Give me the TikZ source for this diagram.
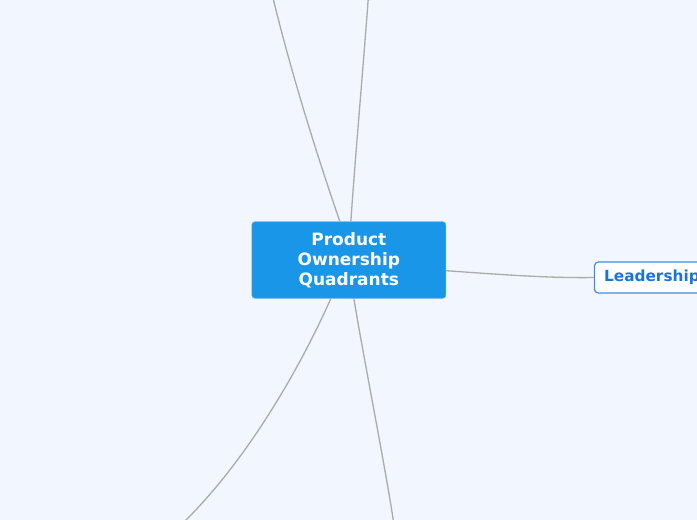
\documentclass[tikz,border=0pt]{standalone}
\usepackage{fontspec}
\setmainfont{DejaVu Sans}
\definecolor{bgc}{HTML}{F2F6FE}
\definecolor{centerblue}{HTML}{1A96E8}
\definecolor{leadblue}{HTML}{1A74DA}
\definecolor{leadborder}{HTML}{3B8EEA}
\definecolor{linkgray}{HTML}{ABABAB}
\tikzset{
  centerbox/.style={fill=centerblue, draw=centerblue!70!white, line width=0.6pt, rounded corners=3pt,
    text=white, font=\bfseries\fontsize{17}{20}\selectfont, align=center,
    minimum width=194pt, minimum height=76.5pt, inner sep=0pt},
  childbox/.style={fill=white, draw=leadborder, line width=1.2pt, rounded corners=4pt,
    text=leadblue, font=\bfseries\fontsize{15.3}{18}\selectfont,
    minimum height=31pt, inner xsep=9.8pt, inner ysep=0pt, anchor=west},
  link/.style={draw=linkgray, line width=1.3pt}
}
\begin{document}
\begin{tikzpicture}[x=1pt,y=-1pt]
\fill[bgc] (0,0) rectangle (697,520);
\useasboundingbox (0,0) rectangle (697,520);
\node[centerbox] (c) at (348.85,260) {Product\\Ownership\\Quadrants};
\node[childbox] (l) at (593.8,277.5) {Leadership};
\coordinate (e1) at (273,-2);
\coordinate (e2) at (368.3,-2);
\coordinate (e3) at (184,522);
\coordinate (e4) at (393.6,522);
\draw[link] ([xshift=-9pt]c.north) .. controls (315.5,151) and (290.5,70) .. (e1);
\draw[link] ([xshift=2pt]c.north) .. controls (355,160) and (363,70) .. (e2);
\draw[link] ([xshift=-18pt]c.south) .. controls (299,370) and (247,460) .. (e3);
\draw[link] ([xshift=5pt]c.south) .. controls (364,360) and (384,460) .. (e4);
\draw[link] ([yshift=-10.7pt]c.east) .. controls (500,274.5) and (550,278.3) .. (l.west);
\end{tikzpicture}
\end{document}
